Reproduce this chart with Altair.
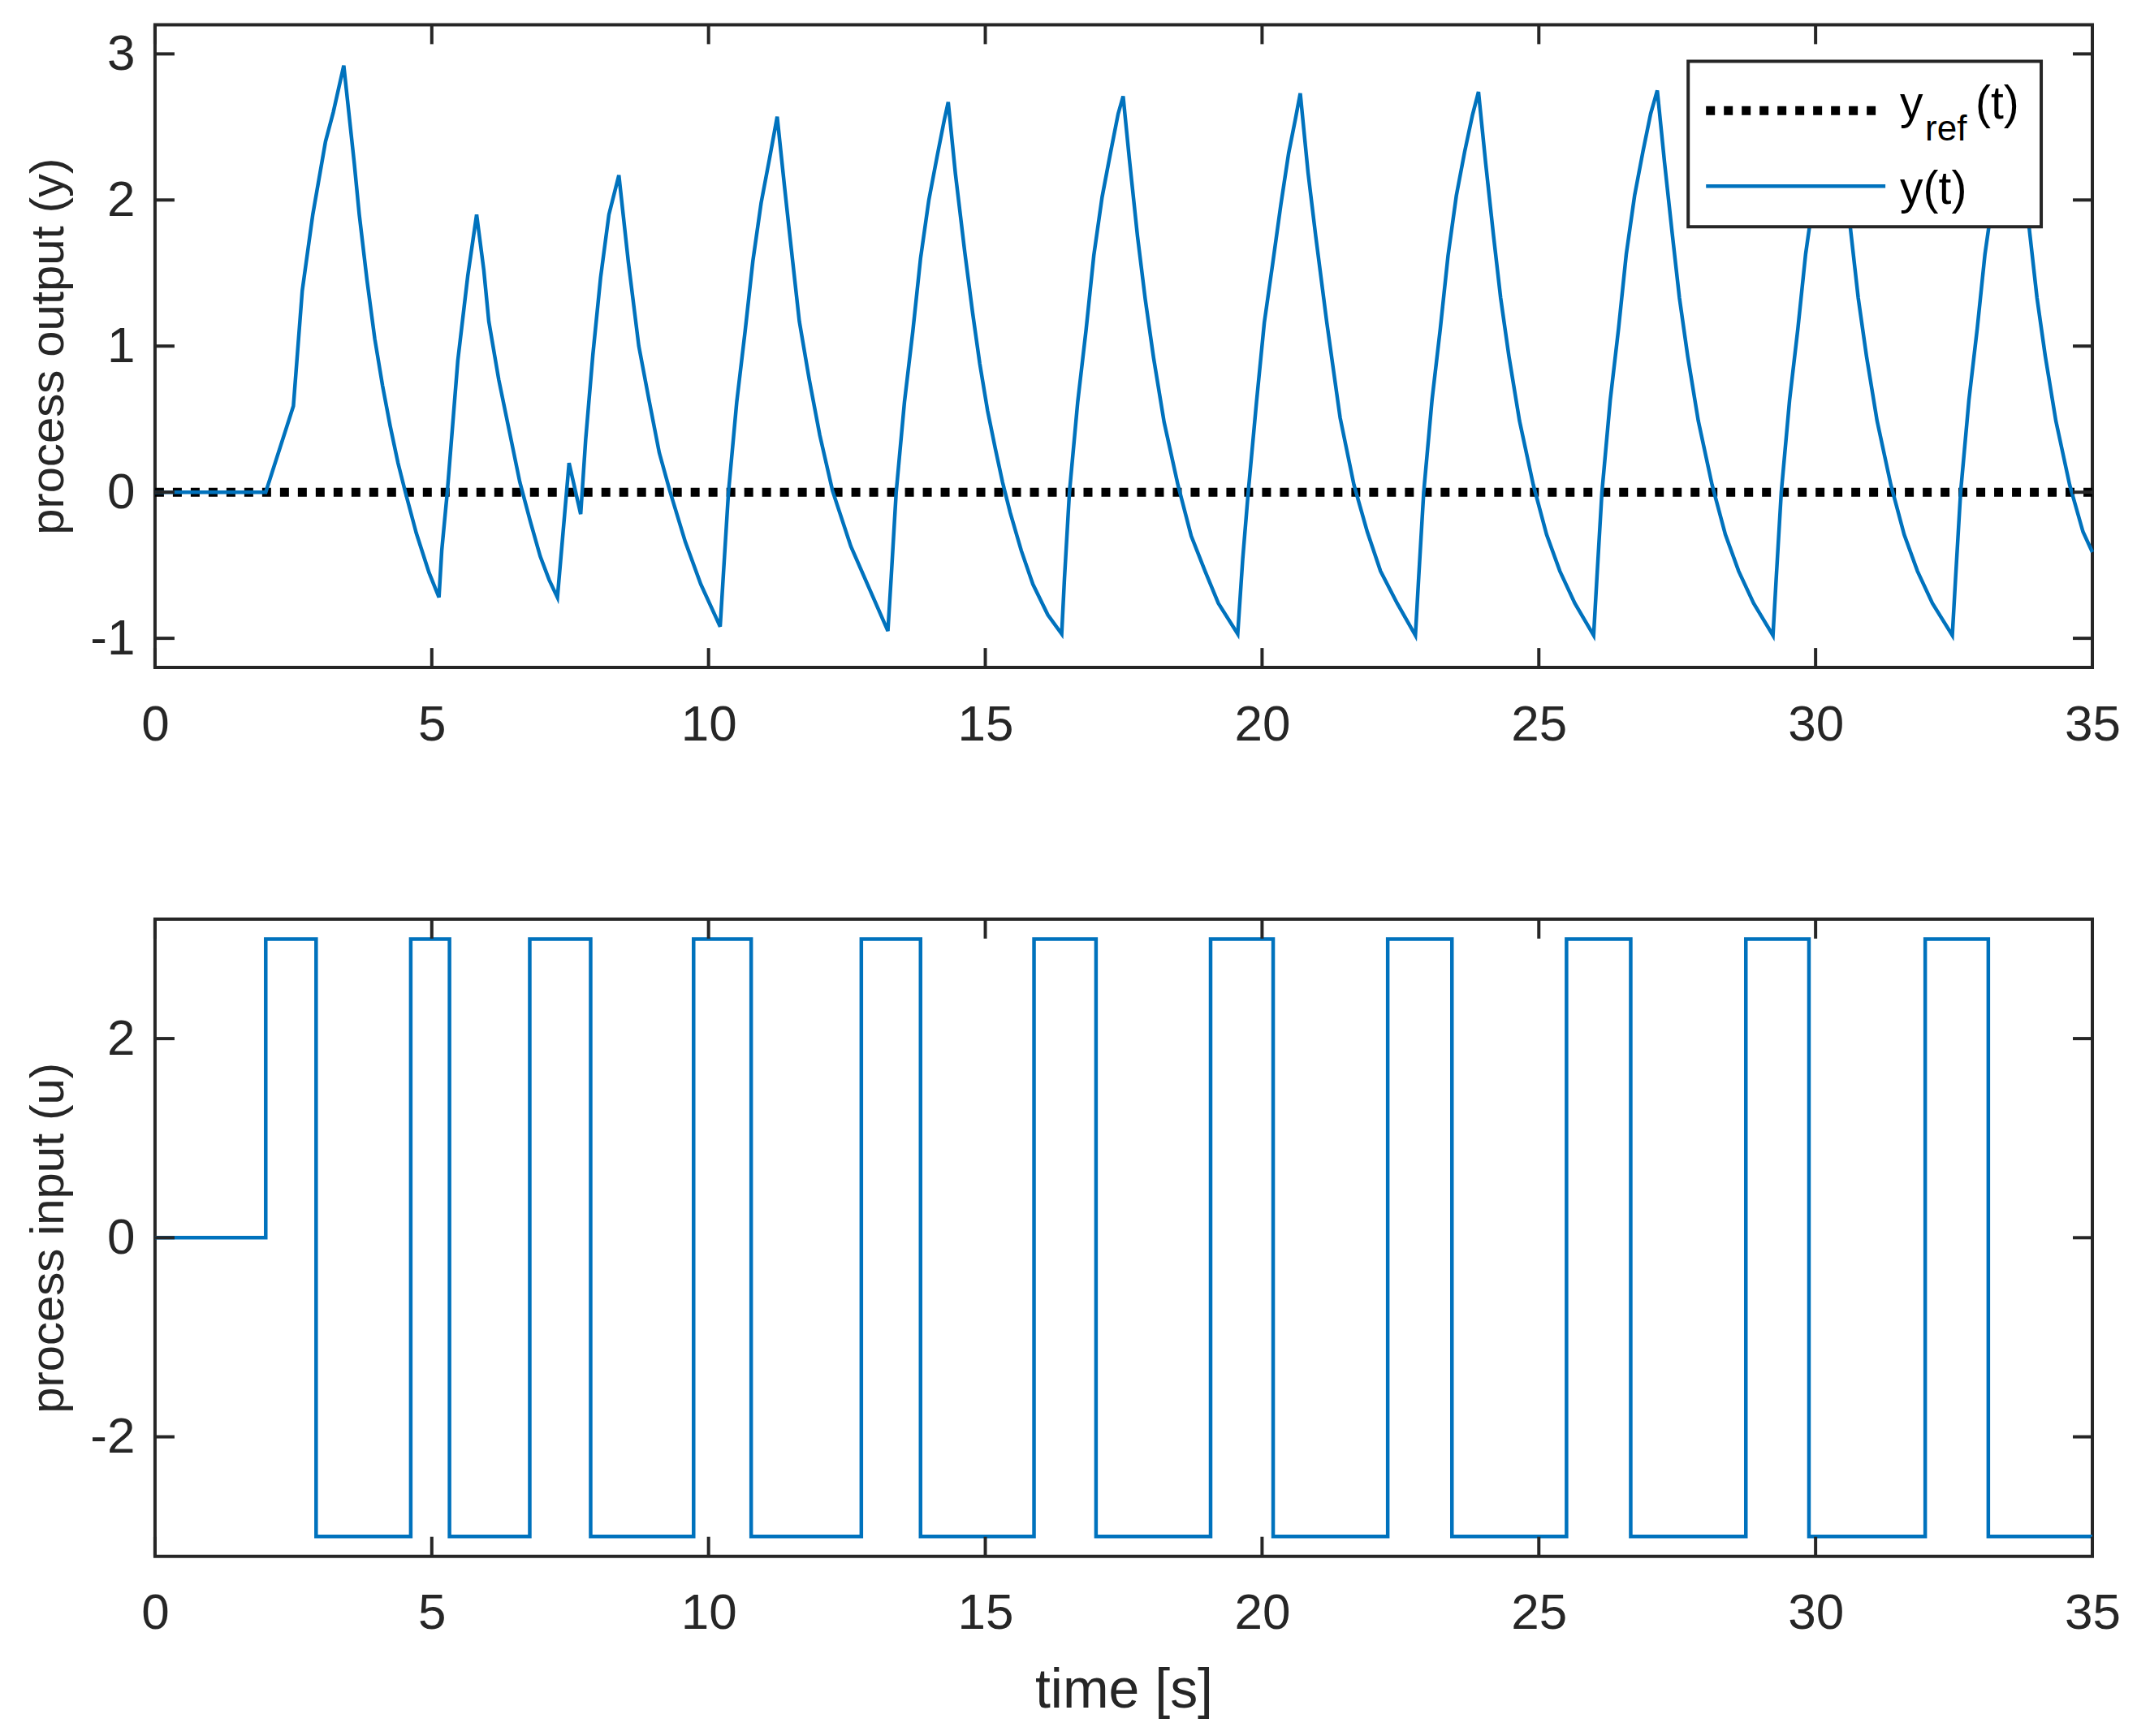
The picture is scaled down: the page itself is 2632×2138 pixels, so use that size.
import altair as alt
import pandas as pd

# ---------------- data ----------------
t_y = [
    0.00, 2.00, 2.50, 2.66, 2.85, 3.08, 3.22, 3.41,
    3.60, 3.69, 3.83, 3.97, 4.11, 4.25, 4.39, 4.53, 4.72, 4.95, 5.13,
    5.18, 5.28, 5.47, 5.65, 5.81,
    5.94, 6.03, 6.21, 6.40, 6.59, 6.78, 6.96, 7.12, 7.27,
    7.48, 7.69,
    7.78, 7.91, 8.05, 8.20, 8.38,
    8.55, 8.74, 8.93, 9.11, 9.30, 9.58, 9.86, 10.21,
    10.27, 10.36, 10.51, 10.66, 10.80, 10.95, 11.10, 11.24,
    11.37, 11.45, 11.64, 11.82, 12.01, 12.24, 12.57, 12.94, 13.24,
    13.30, 13.39, 13.54, 13.69, 13.83, 13.98, 14.13, 14.26, 14.33,
    14.46, 14.63, 14.77, 14.90, 15.04, 15.18, 15.31, 15.45, 15.65, 15.86, 16.13, 16.38,
    16.43, 16.52, 16.67, 16.82, 16.96, 17.11, 17.26, 17.40, 17.49,
    17.60, 17.75, 17.89, 18.04, 18.23, 18.48, 18.72, 18.97, 19.21, 19.56,
    19.65, 19.75, 19.90, 20.04, 20.19, 20.34, 20.48, 20.60, 20.69,
    20.83, 20.97, 21.17, 21.41, 21.66, 21.90, 22.14, 22.44, 22.77,
    22.83, 22.92, 23.07, 23.22, 23.36, 23.51, 23.66, 23.80, 23.91,
    24.04, 24.18, 24.31, 24.46, 24.65, 24.90, 25.14, 25.38, 25.65, 25.99,
    26.05, 26.14, 26.29, 26.44, 26.58, 26.73, 26.88, 27.02, 27.14,
    27.27, 27.41, 27.54, 27.69, 27.88, 28.13, 28.37, 28.61, 28.88, 29.23,
    29.29, 29.38, 29.53, 29.68, 29.82, 29.97, 30.12, 30.26, 30.37,
    30.50, 30.64, 30.77, 30.92, 31.11, 31.36, 31.60, 31.84, 32.11, 32.47,
    32.53, 32.62, 32.77, 32.92, 33.06, 33.21, 33.36, 33.50, 33.60,
    33.73, 33.87, 34.00, 34.15, 34.34, 34.59, 34.83, 35.00,
]
y_out = [
    0.00, 0.00, 0.59, 1.38, 1.90, 2.40, 2.60, 2.92,
    2.25, 1.90, 1.45, 1.05, 0.73, 0.45, 0.20, -0.01, -0.28, -0.55, -0.72,
    -0.40, 0.00, 0.90, 1.48, 1.90,
    1.52, 1.17, 0.77, 0.42, 0.07, -0.20, -0.44, -0.60, -0.72,
    0.20, -0.15,
    0.36, 0.94, 1.47, 1.90, 2.17,
    1.58, 1.00, 0.62, 0.27, 0.01, -0.34, -0.63, -0.92,
    -0.55, 0.00, 0.62, 1.10, 1.58, 1.98, 2.28, 2.57,
    2.10, 1.82, 1.17, 0.77, 0.39, 0.01, -0.37, -0.69, -0.95,
    -0.58, 0.00, 0.62, 1.10, 1.60, 2.00, 2.30, 2.55, 2.67,
    2.18, 1.64, 1.23, 0.88, 0.56, 0.30, 0.07, -0.14, -0.40, -0.63, -0.84, -0.97,
    -0.59, 0.00, 0.62, 1.11, 1.62, 2.02, 2.32, 2.59, 2.71,
    2.29, 1.75, 1.32, 0.92, 0.48, 0.05, -0.30, -0.54, -0.76, -0.97,
    -0.46, 0.00, 0.62, 1.16, 1.56, 1.97, 2.32, 2.55, 2.73,
    2.19, 1.75, 1.16, 0.51, 0.05, -0.27, -0.54, -0.76, -0.98,
    -0.58, 0.00, 0.63, 1.12, 1.62, 2.03, 2.33, 2.58, 2.74,
    2.25, 1.76, 1.33, 0.93, 0.49, 0.05, -0.29, -0.54, -0.76, -0.98,
    -0.58, 0.00, 0.63, 1.12, 1.63, 2.03, 2.33, 2.59, 2.75,
    2.26, 1.77, 1.33, 0.93, 0.49, 0.05, -0.29, -0.54, -0.76, -0.98,
    -0.58, 0.00, 0.63, 1.12, 1.63, 2.03, 2.33, 2.59, 2.75,
    2.26, 1.77, 1.33, 0.93, 0.49, 0.05, -0.29, -0.54, -0.76, -0.98,
    -0.58, 0.00, 0.63, 1.12, 1.63, 2.03, 2.33, 2.59, 2.75,
    2.26, 1.77, 1.33, 0.93, 0.49, 0.05, -0.27, -0.41,
]
t_ref = [0.0, 35.0]
y_ref = [0.0, 0.0]

t_u = [0.00, 2.00, 2.91, 4.62, 5.32, 6.77, 7.87, 9.73, 10.77, 12.76, 13.83,
       15.88, 17.00, 19.07, 20.20, 22.27, 23.43, 25.50, 26.66, 28.74, 29.88,
       31.98, 33.12, 35.00]
u_in = [0, 3, -3, 3, -3, 3, -3, 3, -3, 3, -3,
        3, -3, 3, -3, 3, -3, 3, -3, 3, -3,
        3, -3, -3]

x_ticks = [0, 5, 10, 15, 20, 25, 30, 35]
y_ticks_top = [-1, 0, 1, 2, 3]
y_ticks_bot = [-2, 0, 2]

legend_labels = ["y", "ref", "(t)", "y(t)"]
y_title_top = "process output (y)"
y_title_bot = "process input (u)"
x_title = "time [s]"

# ---------------- styling ----------------
W, H1, H2 = 2387, 792, 785
FONT = "Liberation Sans"
DARK = "#262626"
BLUE = "#0072BD"
TICK = 24
LW = 4.5

x_scale = alt.Scale(domain=[0, 35], nice=False, zero=False)
y1_scale = alt.Scale(domain=[-1.2, 3.2], nice=False, zero=False)
y2_scale = alt.Scale(domain=[-3.2, 3.2], nice=False, zero=False)

neg = "datum.value < 0 ? '-' + abs(datum.value) : '' + datum.value"


def x_axis(title):
    kw = dict(values=x_ticks, ticks=False, tickSize=0, domain=False, grid=False,
              labelFont=FONT, labelFontSize=62, labelColor=DARK, labelPadding=40,
              labelExpr=neg, labelFlush=False, labelOverlap=False,
              titleFont=FONT, titleFontSize=68, titleColor=DARK,
              titleFontWeight="normal", titlePadding=31)
    kw["title"] = title if title else None
    return alt.Axis(**kw)


def y_axis(title, vals):
    return alt.Axis(values=vals, ticks=False, tickSize=0, domain=False, grid=False,
                    labelFont=FONT, labelFontSize=62, labelColor=DARK, labelPadding=25,
                    labelExpr=neg, labelFlush=False, labelOverlap=False,
                    title=title, titleFont=FONT, titleFontSize=58, titleColor=DARK,
                    titleFontWeight="normal", titlePadding=21)


df_y = pd.DataFrame({"t": t_y, "y": y_out})
df_ref = pd.DataFrame({"t": t_ref, "y": y_ref})
df_u = pd.DataFrame({"t": t_u, "y": u_in})
df_xt = pd.DataFrame({"t": x_ticks})
df_yt1 = pd.DataFrame({"y": y_ticks_top})
df_yt2 = pd.DataFrame({"y": y_ticks_bot})
one = pd.DataFrame({"k": [0]})


def panel(line_layers, yscale, xax, yax, df_yt, H, extra):
    X = lambda: alt.X("t:Q", scale=x_scale, axis=xax)
    Y = lambda: alt.Y("y:Q", scale=yscale, axis=yax)
    layers = []
    for df, mk in line_layers:
        layers.append(alt.Chart(df).mark_line(**mk).encode(x=X(), y=Y()))
    layers += [
        alt.Chart(df_xt).mark_rule(color=DARK, strokeWidth=4).encode(
            x=X(), y=alt.value(0), y2=alt.value(TICK)),
        alt.Chart(df_xt).mark_rule(color=DARK, strokeWidth=4).encode(
            x=X(), y=alt.value(H - TICK), y2=alt.value(H)),
        alt.Chart(df_yt).mark_rule(color=DARK, strokeWidth=4).encode(
            y=Y(), x=alt.value(0), x2=alt.value(TICK)),
        alt.Chart(df_yt).mark_rule(color=DARK, strokeWidth=4).encode(
            y=Y(), x=alt.value(W - TICK), x2=alt.value(W)),
    ]
    layers += extra
    return alt.layer(*layers).properties(width=W, height=H)


# ---------------- legend (top panel) ----------------
leg_box = alt.Chart(one).mark_rect(fill="white", stroke=DARK, strokeWidth=4).encode(
    x=alt.value(1889), x2=alt.value(2324), y=alt.value(45), y2=alt.value(249))
leg_ref = alt.Chart(one).mark_rule(color="black", strokeWidth=11, strokeDash=[11, 11]).encode(
    x=alt.value(1911), x2=alt.value(2122), y=alt.value(106))
leg_y = alt.Chart(one).mark_rule(color=BLUE, strokeWidth=LW).encode(
    x=alt.value(1911), x2=alt.value(2132), y=alt.value(199))


def leg_text(s, x, y, size):
    return alt.Chart(one).mark_text(align="left", baseline="alphabetic", font=FONT,
                                    fontSize=size, color="black").encode(
        x=alt.value(x), y=alt.value(y), text=alt.value(s))


leg_texts = [
    leg_text(legend_labels[0], 2150, 116, 57),
    leg_text(legend_labels[1], 2181, 143, 44),
    leg_text(legend_labels[2], 2243, 116, 57),
    leg_text(legend_labels[3], 2150, 221, 57),
]

top = panel(
    [(df_ref, dict(color="black", strokeWidth=11, strokeDash=[11, 11])),
     (df_y, dict(color=BLUE, strokeWidth=LW))],
    y1_scale, x_axis(None), y_axis(y_title_top, y_ticks_top), df_yt1, H1,
    [leg_box, leg_ref, leg_y] + leg_texts,
)

bottom = panel(
    [(df_u, dict(color=BLUE, strokeWidth=LW, interpolate="step-after"))],
    y2_scale, x_axis(x_title), y_axis(y_title_bot, y_ticks_bot), df_yt2, H2, [],
)

chart = alt.vconcat(top, bottom, spacing=203).properties(
    padding={"left": 21, "top": 18, "right": 10, "bottom": 6},
    background="white",
).configure_view(stroke=DARK, strokeWidth=4)

chart.save("out.html", embed_options={"renderer": "svg", "actions": False})
